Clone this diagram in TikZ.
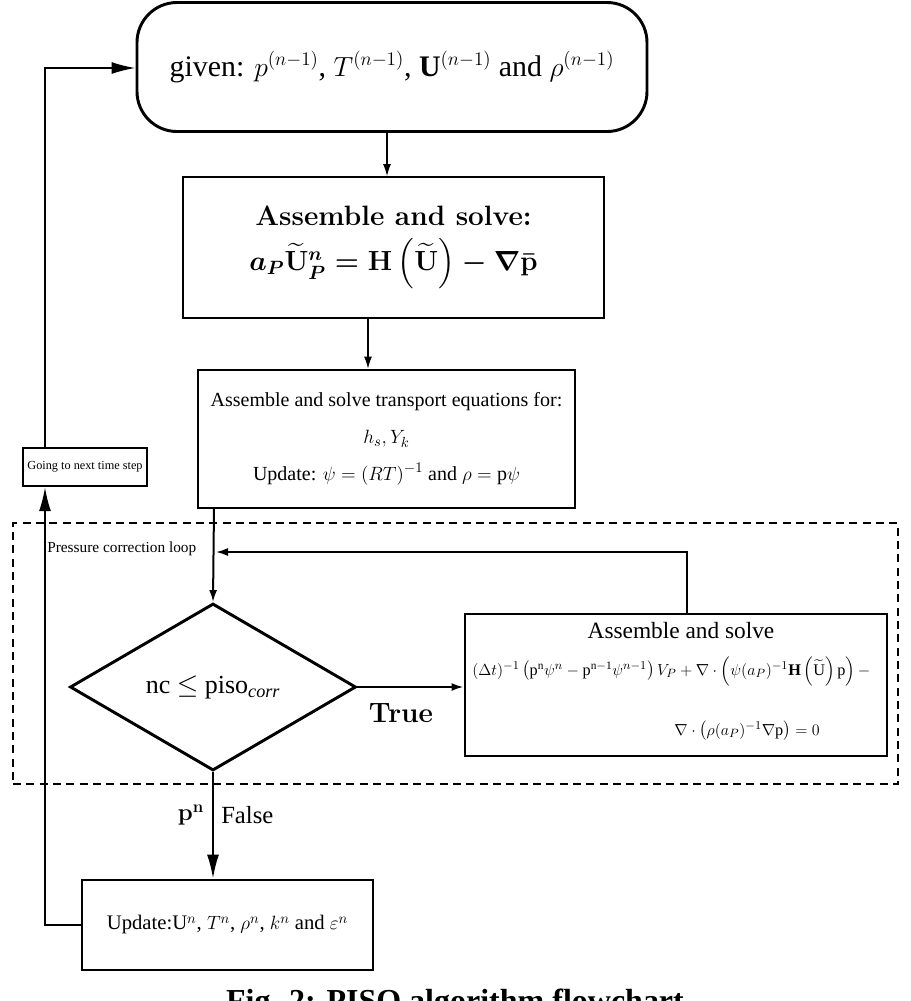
\documentclass[tikz,border=0pt]{standalone}
\usepackage{amsmath,amssymb}
\usepackage{fontspec}
\setmainfont{Liberation Serif}
\usetikzlibrary{shapes.geometric,arrows.meta}
\newcommand{\lmb}{\fontfamily{lmr}\fontseries{bx}\selectfont}
\begin{document}
\begin{tikzpicture}[x=0.75pt,y=-0.75pt,
  box/.style={draw,line width=2.2pt,inner sep=0pt,align=center},
  thin/.style={draw,line width=0.8pt},
  arr/.style={-{Latex[length=9pt,width=6pt]}},
  big/.style={-{Latex[length=18pt,width=9pt]}},
  lbl/.style={inner sep=0pt}]
\useasboundingbox (0,0) rectangle (911,1001);
\node[box,rounded corners=30pt,minimum width=382.5pt,minimum height=96.75pt,font=\fontsize{22.4}{25}\selectfont] (top) at (392,67)
  {given: $p^{(n-1)}$, $T^{(n-1)}$, $\mathbf{U}^{(n-1)}$ and $\rho^{(n-1)}$};
\node[draw,line width=1.5pt,minimum width=315.75pt,minimum height=105.75pt,align=center,inner sep=0pt,font=\lmb\fontsize{21}{30}\selectfont] (b2) at (393.5,247.5)
  {Assemble and solve:\\[4pt]
   $\boldsymbol{a_P\widetilde{\mathbf{U}}^n_P=\mathbf{H}\left(\widetilde{\mathbf{U}}\right)-\nabla\bar{\mathbf{p}}}$};
\node[box,minimum width=282.75pt,minimum height=103.5pt,font=\fontsize{15}{28}\selectfont] (b3) at (386.5,439)
  {Assemble and solve transport equations for:\\
   $h_s, Y_k$\\ Update: $\psi=\left(RT\right)^{-1}$ and $\rho=\mathrm{p}\psi$};
\node[draw,dash pattern=on 6pt off 4pt,line width=1pt,minimum width=663.75pt,minimum height=195.75pt,inner sep=0pt] (loop) at (455.5,653.5) {};
\node[lbl,anchor=west,font=\fontsize{11.5}{12}\selectfont] (pcl) at (47,549) {Pressure correction loop};
\node[diamond,draw,line width=2.2pt,minimum width=214.5pt,minimum height=125.25pt,inner sep=0pt,shape aspect=1.71,font=\fontsize{19.5}{21}\selectfont] (dia) at (213,687)
  {nc $\leq$ piso$_{\mathit{corr}}$};
\node[box,minimum width=316.5pt,minimum height=106.5pt] (b4) at (676,685) {};
\node[lbl,font=\fontsize{17.5}{19}\selectfont] (b4t) at (681,631) {Assemble and solve};
\node[lbl,anchor=west,font=\fontsize{12.2}{14}\selectfont] (b4e1) at (472,671) {$(\Delta t)^{-1}\left(\mathrm{p}^{\mathrm{n}}\psi^n-\mathrm{p}^{\mathrm{n-1}}\psi^{n-1}\right)V_P+\nabla\cdot\left(\psi(a_P)^{-1}\mathbf{H}\left(\widetilde{\mathrm{U}}\right)\mathrm{p}\right)-$};
\node[lbl,anchor=east,font=\fontsize{12.2}{14}\selectfont] (b4e2) at (820,731) {$\nabla\cdot\left(\rho(a_P)^{-1}\nabla\mathrm{p}\right)=0$};
\node[box,minimum width=218.25pt,minimum height=67.5pt,font=\fontsize{15.5}{17}\selectfont] (b5) at (227.5,925)
  {Update:U$^n$, $T^n$, $\rho^n$, $k^n$ and $\varepsilon^n$};
\node[draw,line width=1.8pt,minimum width=93pt,minimum height=28.5pt,inner sep=0pt,font=\fontsize{9.2}{10}\selectfont] (next) at (85,467)
  {Going to next time step};
\node[lbl,font=\lmb\fontsize{21}{23}\selectfont] (true) at (401,713) {True};
\node[lbl,font=\lmb\fontsize{18}{20}\selectfont] (pn) at (191,815) {p$^{\text{n}}$};
\node[lbl,anchor=west,font=\fontsize{18.5}{20}\selectfont] (false) at (221,815) {False};
\node[lbl,font=\bfseries\fontsize{24}{26}\selectfont] (cap) at (455,1004) {Fig. 2: PISO algorithm flowchart};
\coordinate (c1) at (387,132);
\coordinate (c2) at (368,318);
\coordinate (c3) at (214,508);
\coordinate (r1) at (687,552);
\coordinate (r2) at (216,552);
\coordinate (l1) at (45,925);
\coordinate (l2) at (45,68);
\draw[thin,arr] (c1) -- (c1 |- b2.north);
\draw[thin,arr] (c2) -- (c2 |- b3.north);
\draw[line width=1.5pt,arr] (c3) -- (dia.north);
\draw[line width=1.3pt,arr] (b4.north -| r1) -- (r1) -- (r2);
\draw[line width=1.5pt,arr] (dia.east) -- (dia.east -| b4.west);
\draw[line width=1.5pt,big] (dia.south) -- (dia.south |- b5.north);
\draw[line width=1.3pt,big] (b5.west |- l1) -- (l1) -- (l1 |- next.south);
\draw[line width=1.3pt,big] (l2 |- next.north) -- (l2) -- (top.west |- l2);
\end{tikzpicture}
\end{document}
